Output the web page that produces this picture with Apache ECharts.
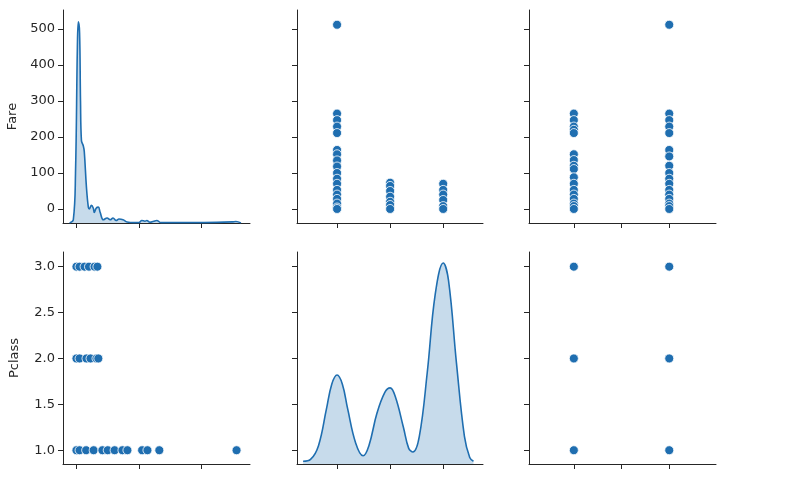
<!DOCTYPE html>
<html>
<head>
<meta charset="utf-8">
<script src="https://cdn.jsdelivr.net/npm/echarts@6/dist/echarts.min.js"></script>
<style>html,body{margin:0;background:#fff}#chart{width:787px;height:483px}</style>
</head>
<body>
<div id="chart"></div>
<script>
// Fare density (diagonal, drawn in Fare units on the shared y axis)
var fareKde = [[-22,-39],[-10,-30],[-3,100],[3,450],[6,520],[10,490],[13,300],[16,190],[22,175],[25,160],
    [32,60],[38,5],[41,0],[48,10],[54,2],[57,-10],[63,2],[70,5],[76,-10],[86,-30],[98,-25],[108,-30],
    [117,-25],[127,-32],[136,-28],[149,-30],[162,-36],[184,-38],[200,-38],[209,-32],[219,-34],[225,-32],
    [235,-37],[247,-34],[257,-32],[270,-38],[390,-38],[498,-36],[510,-35],[526,-39]];
// Pclass density (diagonal, drawn in Pclass units)
var pclassKde = [[0.36,0.88],[0.5,0.9],[0.65,1.05],[0.8,1.45],[0.9,1.72],[1.0,1.82],[1.1,1.72],[1.2,1.45],
    [1.35,1.08],[1.49,0.94],[1.6,1.05],[1.75,1.4],[1.9,1.63],[2.0,1.68],[2.1,1.58],[2.25,1.25],[2.35,1.02],
    [2.43,0.98],[2.55,1.15],[2.7,1.85],[2.85,2.7],[3.0,3.04],[3.1,2.85],[3.25,1.95],[3.4,1.15],[3.5,0.92],[3.57,0.88]];
// Pclass -> fares seen
var faresP1 = [512,265,247,229,211,164,152,135,118,100,84,70,53,40,28,15,4,0];
var faresP2 = [73,64,50,34,20,11,0];
var faresP3 = [70,53,40,25,8,0];
// Survived -> fares seen
var faresS0 = [265,247,229,220,211,152,136,120,111,88,70,53,40,28,15,8,0];
var faresS1 = [512,265,247,229,211,164,146,120,100,84,70,53,40,28,15,8,0];
// Fare values on each Pclass row (bottom-left)
var rowP1 = [0,10,31,55,83,100,122,147,163,210,227,265,512];
var rowP2 = [0,10,32,45,64,70];
var rowP3 = [0,10,26,40,58,67];
var survived = [0,1];
var pclasses = [1,2,3];

var blue = '#1f6eb0';
var txt = '#262626';
var font = 'DejaVu Sans';

var cols = [{left:63,width:187},{left:297,width:186},{left:529,width:187}];
var rows = [{top:10,height:213},{top:252,height:212}];
var grids = [];
rows.forEach(function(r){ cols.forEach(function(c){
    grids.push({left:c.left, width:c.width, top:r.top, height:r.height});
}); });

var xRanges = [
    {min:-43, max:555, ticks:[0,200,400]},
    {min:0.245, max:3.75, ticks:[1,2,3]},
    {min:-0.47, max:1.49, ticks:[0,0.5,1]}
];
var yRanges = [
    {min:-39, max:553, ticks:[0,100,200,300,400,500], name:'Fare', fmt:function(v){return String(v);}},
    {min:0.85, max:3.16, ticks:[1,1.5,2,2.5,3], name:'Pclass', fmt:function(v){return v.toFixed(1);}}
];

var xAxes = [], yAxes = [];
grids.forEach(function(g, i){
    var r = Math.floor(i / 3), c = i % 3;
    var xr = xRanges[c], yr = yRanges[r];
    xAxes.push({gridIndex:i, type:'value', min:xr.min, max:xr.max, splitLine:{show:false},
        axisLine:{onZero:false, lineStyle:{color:txt, width:1}},
        axisTick:{length:5, lineStyle:{color:txt}, customValues:xr.ticks},
        axisLabel:{show:false}});
    yAxes.push({gridIndex:i, type:'value', min:yr.min, max:yr.max, splitLine:{show:false},
        name:c === 0 ? yr.name : '', nameLocation:'middle', nameGap:c === 0 ? (r === 0 ? 44 : 42) : 0,
        nameTextStyle:{color:txt, fontFamily:font, fontSize:13},
        axisLine:{show:true, onZero:false, lineStyle:{color:txt, width:1}},
        axisTick:{show:true, length:5, lineStyle:{color:txt}, customValues:yr.ticks},
        axisLabel:{show:c === 0, color:txt, fontFamily:font, fontSize:13, customValues:yr.ticks,
            formatter:yr.fmt}});
});

function pts(xs, y) { return xs.map(function(x){ return [x, y]; }); }
function ptsY(x, ys) { return ys.map(function(y){ return [x, y]; }); }

var dot = {color:blue, borderColor:'#fff', borderWidth:0.8, opacity:1};
function scatter(i, data) {
    return {type:'scatter', xAxisIndex:i, yAxisIndex:i, data:data, symbolSize:9, itemStyle:dot, silent:true};
}
function kde(i, data) {
    return {type:'line', xAxisIndex:i, yAxisIndex:i, data:data, smooth:0.4, symbol:'none',
        lineStyle:{color:blue, width:1.6}, areaStyle:{color:'rgba(31,110,176,0.25)', opacity:1, origin:'start'}, silent:true};
}

var gridCorner = [];
pclasses.forEach(function(p){ survived.forEach(function(s){ gridCorner.push([s, p]); }); });

var series = [
    kde(0, fareKde),
    scatter(1, ptsY(1, faresP1).concat(ptsY(2, faresP2), ptsY(3, faresP3))),
    scatter(2, ptsY(survived[0], faresS0).concat(ptsY(survived[1], faresS1))),
    scatter(3, pts(rowP1, 1).concat(pts(rowP2, 2), pts(rowP3, 3))),
    kde(4, pclassKde),
    scatter(5, gridCorner)
];

echarts.init(document.getElementById('chart')).setOption({
    backgroundColor:'#fff',
    animation:false,
    grid:grids,
    xAxis:xAxes,
    yAxis:yAxes,
    series:series
});
</script>
</body>
</html>
